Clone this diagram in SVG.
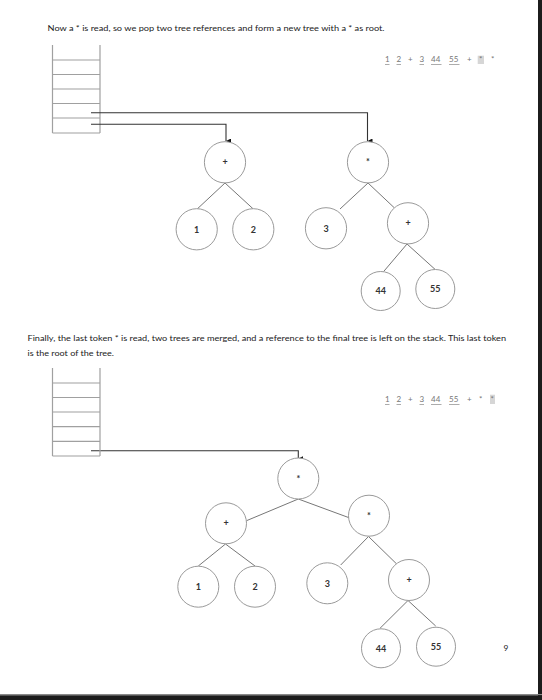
<svg xmlns="http://www.w3.org/2000/svg" width="542" height="700" viewBox="0 0 542 700">
<defs>
<marker id="ah" viewBox="0 0 6 6" refX="3" refY="6" markerWidth="5" markerHeight="5" orient="auto-start-reverse" markerUnits="userSpaceOnUse">
<path d="M0,0 L6,0 L3,6 Z" fill="#111"/>
</marker>
<style>
.txt{font-family:Lato,"Liberation Sans",Arial,sans-serif;font-size:8.4px;fill:#222}
.expr{font-family:Lato,"Liberation Sans",Arial,sans-serif;font-size:8px;fill:#777}
.lbl{font-family:Lato,"Liberation Sans",Arial,sans-serif;font-size:9px;fill:#333;text-anchor:middle;font-weight:bold}
.node circle{fill:#fff;stroke:#9a9a9a;stroke-width:1}
.edge{stroke:#777;stroke-width:1;fill:none}
.stack{stroke:#a0a0a0;stroke-width:1.2;fill:none}
.ptr{stroke:#333;stroke-width:1.1;fill:none}
.ul{stroke:#888;stroke-width:0.7}
</style>
</defs>
<rect x="0" y="0" width="542" height="700" fill="#fff"/>
<rect x="538" y="0" width="4" height="700" fill="#1c1c1c"/>
<rect x="0" y="694" width="542" height="1.3" fill="#8a8a8a"/>
<rect x="0" y="695.3" width="542" height="4.7" fill="#1c1c1c"/>

<text class="txt" x="47.5" y="31" textLength="337" lengthAdjust="spacingAndGlyphs">Now a * is read, so we pop two tree references and form a new tree with a * as root.</text>

<g id="stack1">
<path class="stack" d="M52.5,45 V133 M100,45 V133 M52.5,60 H100 M52.5,74.5 H100 M52.5,89 H100 M52.5,103.5 H100 M52.5,118 H100 M52.5,133 H100"/>
</g>

<g id="expr1">
<rect x="477.7" y="55.7" width="6.3" height="8.3" fill="#d6d6d6"/>
<text class="expr" y="62"><tspan x="385">1</tspan><tspan x="396.5">2</tspan><tspan x="408">+</tspan><tspan x="419.5">3</tspan><tspan x="431">44</tspan><tspan x="449">55</tspan><tspan x="467">+</tspan><tspan x="479">*</tspan><tspan x="491">*</tspan></text>
<path class="ul" d="M385,64.5 H389.5 M396.5,64.5 H401 M419.5,64.5 H424 M431,64.5 H441.5 M449,64.5 H459.5"/>
</g>

<g id="connectors">
<path class="ptr" d="M91,112.7 H367.5 V141" marker-end="url(#ah)"/>
<path class="ptr" d="M91,124.3 H226 V141" marker-end="url(#ah)"/>
<line class="edge" x1="225" y1="183" x2="197.5" y2="208.7"/>
<line class="edge" x1="225" y1="183" x2="253.3" y2="209"/>
<line class="edge" x1="368" y1="183" x2="340" y2="209"/>
<line class="edge" x1="368" y1="183" x2="394" y2="207.5"/>
<line class="edge" x1="407" y1="244" x2="383.5" y2="271.7"/>
<line class="edge" x1="407" y1="244" x2="435" y2="269.3"/>

<path class="ptr" d="M91,450.7 H298.3 V458.5" marker-end="url(#ah)"/>
<line class="edge" x1="298.3" y1="499" x2="246.5" y2="520.7"/>
<line class="edge" x1="298.3" y1="499" x2="349" y2="517.7"/>
<line class="edge" x1="225.5" y1="544" x2="198.3" y2="566"/>
<line class="edge" x1="225.5" y1="544" x2="255" y2="566"/>
<line class="edge" x1="368.5" y1="536.5" x2="340.7" y2="565"/>
<line class="edge" x1="368.5" y1="536.5" x2="396.7" y2="564"/>
<line class="edge" x1="408" y1="600.5" x2="380" y2="628.3"/>
<line class="edge" x1="408" y1="600.5" x2="435.7" y2="626"/>
</g>

<g id="t1_plus" class="node"><circle cx="225" cy="162.3" r="20.6"/><text class="lbl" x="225" y="165.3">+</text></g>
<g id="t1_1" class="node"><circle cx="196.7" cy="229.3" r="20.6"/><text class="lbl" x="196.7" y="232.5">1</text></g>
<g id="t1_2" class="node"><circle cx="253.3" cy="229.3" r="20.6"/><text class="lbl" x="253.3" y="232.5">2</text></g>
<g id="t1_star" class="node"><circle cx="368" cy="162.3" r="20.6"/><text class="lbl" x="368" y="165.3">*</text></g>
<g id="t1_3" class="node"><circle cx="326" cy="228.3" r="20.6"/><text class="lbl" x="326" y="231.5">3</text></g>
<g id="t1_plus2" class="node"><circle cx="408" cy="223.3" r="20.6"/><text class="lbl" x="408" y="226.3">+</text></g>
<g id="t1_44" class="node"><circle cx="380.7" cy="291" r="19.5"/><text class="lbl" x="380.7" y="294.2">44</text></g>
<g id="t1_55" class="node"><circle cx="435.3" cy="289" r="19.5"/><text class="lbl" x="435.3" y="292.2">55</text></g>

<text class="txt" x="27.5" y="341" textLength="478.5" lengthAdjust="spacingAndGlyphs">Finally, the last token * is read, two trees are merged, and a reference to the final tree is left on the stack. This last token</text>
<text class="txt" x="27.5" y="355.5" textLength="86.5" lengthAdjust="spacingAndGlyphs">is the root of the tree.</text>

<g id="stack2">
<path class="stack" d="M52.5,368 V456 M100,368 V456 M52.5,383 H100 M52.5,397.5 H100 M52.5,412 H100 M52.5,426.7 H100 M52.5,441.3 H100 M52.5,456 H100"/>
</g>

<g id="expr2">
<rect x="490" y="394.7" width="5" height="9.3" fill="#d6d6d6"/>
<text class="expr" y="402"><tspan x="385">1</tspan><tspan x="396.5">2</tspan><tspan x="408">+</tspan><tspan x="419.5">3</tspan><tspan x="431">44</tspan><tspan x="449">55</tspan><tspan x="467">+</tspan><tspan x="479">*</tspan><tspan x="490.5">*</tspan></text>
<path class="ul" d="M385,404.5 H389.5 M396.5,404.5 H401 M419.5,404.5 H424 M431,404.5 H441.5 M449,404.5 H459.5"/>
</g>

<g id="t2_root" class="node"><circle cx="298.3" cy="478.5" r="20.5"/><text class="lbl" x="298.3" y="481.5">*</text></g>
<g id="t2_plus" class="node"><circle cx="226" cy="523.3" r="20.5"/><text class="lbl" x="226" y="526.3">+</text></g>
<g id="t2_star" class="node"><circle cx="369" cy="515.7" r="20.5"/><text class="lbl" x="369" y="518.7">*</text></g>
<g id="t2_1" class="node"><circle cx="198.3" cy="586.7" r="20.5"/><text class="lbl" x="198.3" y="589.9">1</text></g>
<g id="t2_2" class="node"><circle cx="255" cy="586.7" r="20.5"/><text class="lbl" x="255" y="589.9">2</text></g>
<g id="t2_3" class="node"><circle cx="327.3" cy="583.3" r="20.5"/><text class="lbl" x="327.3" y="586.5">3</text></g>
<g id="t2_plus2" class="node"><circle cx="409" cy="580" r="20.5"/><text class="lbl" x="409" y="583">+</text></g>
<g id="t2_44" class="node"><circle cx="381" cy="648.3" r="19.5"/><text class="lbl" x="381" y="651.5">44</text></g>
<g id="t2_55" class="node"><circle cx="436" cy="646.7" r="19.5"/><text class="lbl" x="436" y="649.9">55</text></g>

<text class="txt" x="503.5" y="650.5" font-size="7">9</text>
</svg>
